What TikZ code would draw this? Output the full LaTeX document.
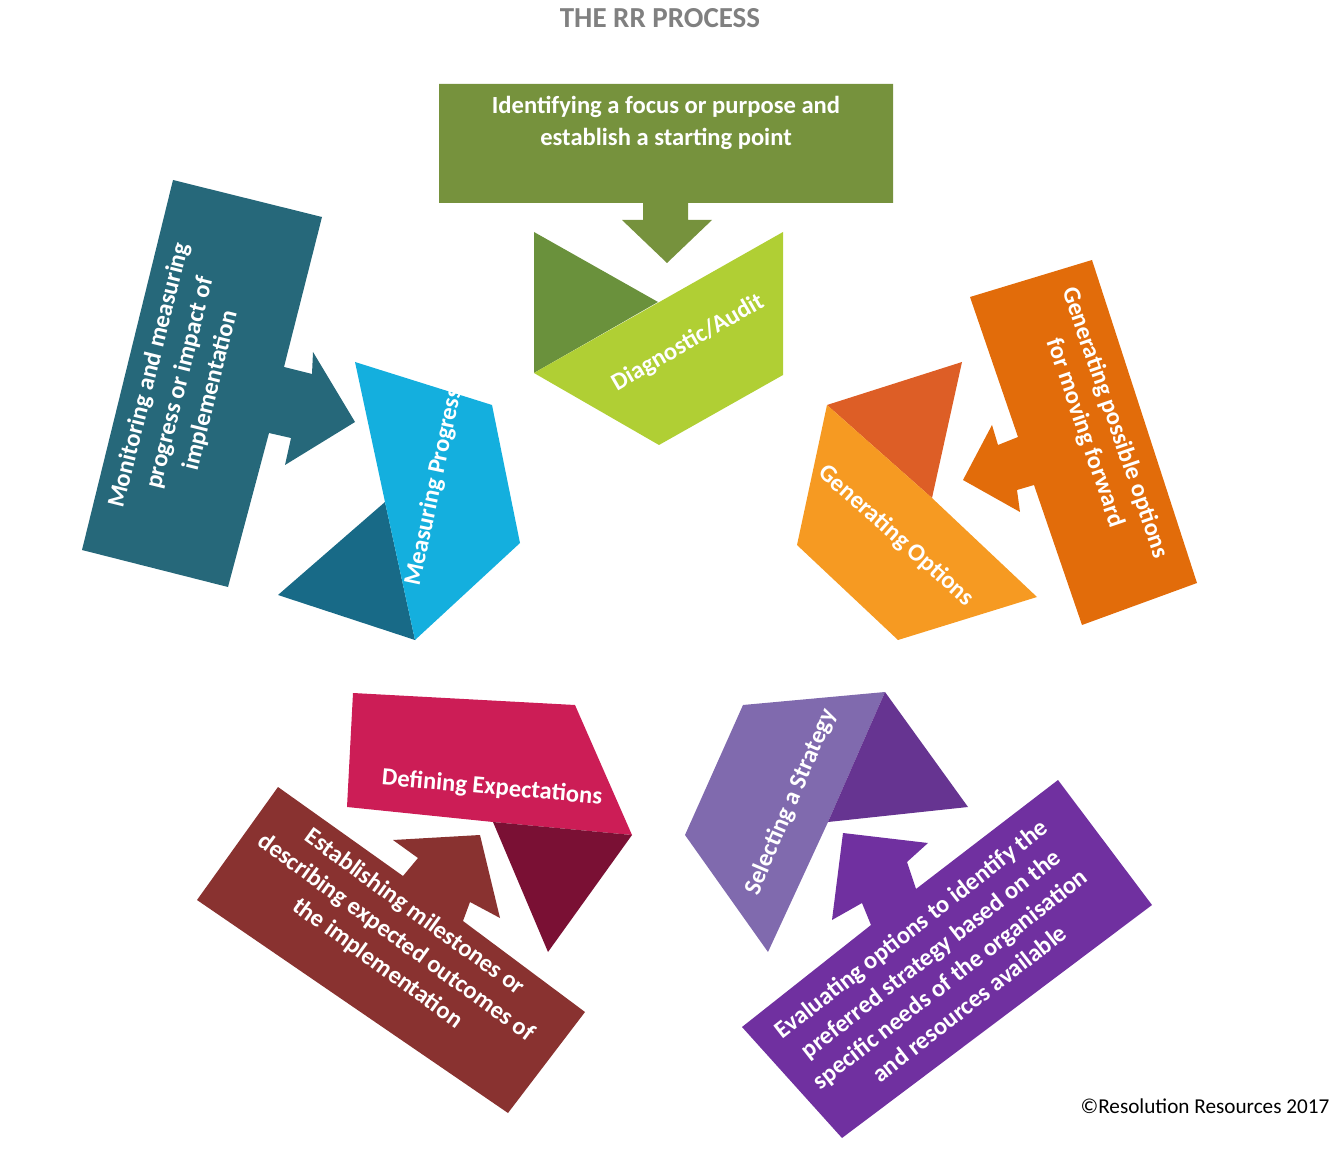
\documentclass[tikz,border=0pt]{standalone}
\usepackage{fontspec}
\setmainfont{Carlito}
\usetikzlibrary{positioning}
\definecolor{topcolor}{RGB}{118,146,61}
\definecolor{diagdark}{RGB}{106,145,60}
\definecolor{diaglight}{RGB}{176,207,52}
\definecolor{measurecolor}{RGB}{38,104,122}
\definecolor{measuredark}{RGB}{24,106,135}
\definecolor{measurelight}{RGB}{20,175,222}
\definecolor{optioncolor}{RGB}{226,108,10}
\definecolor{optiondark}{RGB}{221,94,38}
\definecolor{optionlight}{RGB}{246,154,34}
\definecolor{strategycolor}{RGB}{112,48,160}
\definecolor{strategydark}{RGB}{102,52,145}
\definecolor{strategylight}{RGB}{128,106,174}
\definecolor{expectcolor}{RGB}{137,50,48}
\definecolor{expectdark}{RGB}{122,16,52}
\definecolor{expectlight}{RGB}{204,29,86}

\begin{document}
\begin{tikzpicture}[
    x=0.5pt, y=-0.5pt,
    ctext/.style={text=white, align=center, inner sep=1pt, font=\bfseries\fontsize{12.3}{15.8}\selectfont},
    stext/.style={text=white, font=\bfseries\fontsize{12.3}{14}\selectfont}
]
    \useasboundingbox (0,0) rectangle (1335,1155);

    % Title
    \node[text=gray, font=\bfseries\fontsize{14.5}{16}\selectfont] (title) at (660,18) {THE RR PROCESS};

    % Diagnostic/Audit
    \fill[topcolor] (439,84) -- (893,84) -- (893,203) -- (688,203) -- (688,220) -- (712,220)
        -- (667,263) -- (622,220) -- (643,220) -- (643,203) -- (439,203) -- cycle;
    \node[ctext] (focus) at (666,123) {Identifying a focus or purpose and\\establish a starting point};
    \fill[diagdark] (534,232) -- (658,302) -- (534,373) -- cycle;
    \fill[diaglight] (534,373) -- (783,232) -- (783,375) -- (659,445) -- cycle;
    \node[stext, rotate=30] (diag) at (688,343) {Diagnostic/Audit};

    % Measuring Progress
    \fill[measurecolor] (173,180) -- (322,217) -- (284,367) -- (312,374) -- (313,352) -- (355,422)
        -- (285,465) -- (291,438) -- (269,433) -- (228,587) -- (82,550) -- cycle;
    \node[ctext, rotate=76] (monitor) at (180,383) {Monitoring and measuring\\progress or impact of\\implementation};
    \fill[measuredark] (278,595) -- (385,502) -- (415,640) -- cycle;
    \fill[measurelight] (355,362) -- (492,405) -- (520,543) -- (415,640) -- (385,502) -- cycle;
    \node[stext, rotate=78] (measure) at (434,487) {Measuring Progress};

    % Generating Options
    \fill[optioncolor] (970,297) -- (1092,260) -- (1197,583) -- (1082,625) -- (1034,485) -- (1017,490)
        -- (1020,512) -- (963,480) -- (992,425) -- (998,445) -- (1018,437) -- cycle;
    \node[ctext, rotate=-71] (possible) at (1100,428) {Generating possible options\\for moving forward};
    \fill[optiondark] (827,405) -- (962,362) -- (932,498) -- cycle;
    \fill[optionlight] (827,405) -- (932,498) -- (1037,597) -- (898,640) -- (797,545) -- cycle;
    \node[stext, rotate=-41.5] (option) at (896,536) {Generating Options};

    % Selecting a Strategy
    \fill[strategylight] (743,705) -- (885,692) -- (828,822) -- (768,952) -- (685,835) -- cycle;
    \fill[strategydark] (885,692) -- (968,807) -- (828,822) -- cycle;
    \node[stext, rotate=67] (strategy) at (791,802) {Selecting a Strategy};
    \fill[strategycolor] (742,1027) -- (871,925) -- (862,903) -- (832,920) -- (843,833) -- (928,843)
        -- (907,862) -- (916,889) -- (1058,780) -- (1152,905) -- (842,1138) -- cycle;
    \node[ctext, rotate=38] (evaluate) at (940,966) {Evaluating options to identify the\\preferred strategy based on the\\specific needs of the organisation\\and resources available};

    % Defining Expectations
    \fill[expectlight] (353,693) -- (575,705) -- (632,835) -- (493,822) -- (347,807) -- cycle;
    \fill[expectdark] (493,822) -- (632,835) -- (548,952) -- cycle;
    \node[stext, rotate=-5] (expect) at (492,788) {Defining Expectations};
    \fill[expectcolor] (278,787) -- (403,876) -- (418,858) -- (393,840) -- (480,835) -- (500,918)
        -- (470,902) -- (463,921) -- (585,1012) -- (508,1113) -- (197,900) -- cycle;
    \node[ctext, rotate=-36] (milestone) at (396,938) {Establishing milestones or\\describing expected outcomes of\\the implementation};

    % Copyright
    \node[font=\fontsize{10.6}{12}\selectfont] (copy) at (1205,1106) {©Resolution Resources 2017};
\end{tikzpicture}
\end{document}
